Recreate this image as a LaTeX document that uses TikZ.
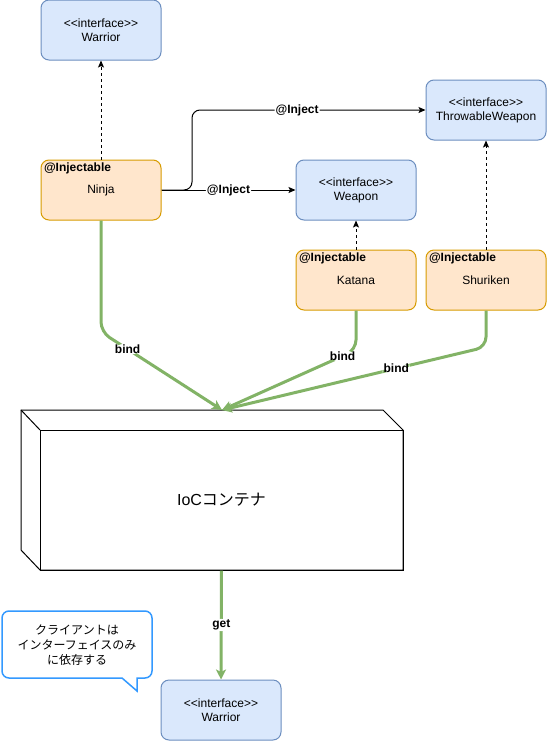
\documentclass[tikz,border=0pt]{standalone}
\usepackage{fontspec}
\setmainfont{Liberation Sans}[Ligatures=TeXOff]
\newfontfamily\jp{Noto Sans CJK JP}
\usetikzlibrary{arrows.meta}
\definecolor{ifill}{HTML}{DAE8FC}
\definecolor{iline}{HTML}{6C8EBF}
\definecolor{cfill}{HTML}{FFE6CC}
\definecolor{cline}{HTML}{D79B00}
\definecolor{bindgreen}{HTML}{82B366}
\definecolor{noteline}{HTML}{3399FF}
\newcommand \txt {\fontsize{12}{14}\selectfont}
\tikzstyle{iface}=[rectangle,rounded corners=8pt,draw=iline,fill=ifill,minimum width=120pt,minimum height=60pt,align=center,font=\txt]
\tikzstyle{impl}=[rectangle,rounded corners=8pt,draw=cline,fill=cfill,minimum width=120pt,minimum height=60pt,font=\txt]
\tikzstyle{tag}=[anchor=north west,inner sep=3pt,font=\txt\bfseries]
\tikzstyle{lbl}=[fill=white,inner sep=1pt,font=\txt\bfseries]
\tikzstyle{dep}=[-{Stealth[length=7pt,width=6pt,inset=1.5pt]},dash pattern=on 3pt off 3pt,line width=1pt]
\tikzstyle{inj}=[-{Stealth[length=7pt,width=6pt,inset=1.5pt]},line width=1pt,rounded corners=8pt]
\tikzstyle{bind}=[-{Stealth[length=10pt,width=10pt,inset=2.5pt]},draw=bindgreen,line width=3pt,rounded corners=10pt]
\tikzset{every picture/.style={
    x=1pt,y=-1pt,line width=1pt
  }
}

\begin{document}
\begin{tikzpicture}
      \useasboundingbox (0,0) rectangle (547,742);
      % interfaces
      \node[iface] at (101,30) (warrior) {<<interface>>\\Warrior};
      \node[iface] at (356,190) (weapon) {<<interface>>\\Weapon};
      \node[iface] at (486,110) (throwable) {<<interface>>\\ThrowableWeapon};
      % implementations
      \node[impl] at (101,190) (ninja) {Ninja};
      \node[tag] at (ninja.north west) (ninjatag) {@Injectable};
      \node[impl] at (356,280) (katana) {Katana};
      \node[tag] at (katana.north west) (katanatag) {@Injectable};
      \node[impl] at (486,280) (shuriken) {Shuriken};
      \node[tag] at (shuriken.north west) (shurikentag) {@Injectable};
      \draw[dep] (ninja)--(warrior);
      \draw[dep] (katana)--(weapon);
      \draw[dep] (shuriken)--(throwable);
      \draw[inj] (ninja.east)--node[lbl] {@Inject} (weapon.west);
      \draw[inj] (ninja.east)--(192,190)--(192,110)--node[lbl,pos=0.45] {@Inject} (throwable.west);
      % container
      \draw (21,410)--(383,410)--(403,430)--(403,570)--(40,570)--(21,550)--cycle;
      \draw (21,410)--(40,430);
      \node[draw,minimum width=363pt,minimum height=140pt,font=\fontsize{16}{18}\selectfont] at (221.5,500) (ioc) {IoC{\jp コンテナ}};
      \coordinate (ioctop) at (222,410);
      \draw[bind] (ninja.south)--(101,332)--node[lbl,pos=0.22] {bind} (ioctop);
      \draw[bind] (katana.south)--(356,350)--node[lbl,pos=0.1] {bind} (ioctop);
      \draw[bind] (shuriken.south)--(486,347)--node[lbl,pos=0.34] {bind} (ioctop);
      % client side
      \node[iface] at (221,710) (client) {<<interface>>\\Warrior};
      \draw[bind] (ioc.south)--node[lbl] {get} (client.north);
      \draw[noteline,line width=1.5pt,fill=white,rounded corners=7pt] (2,611)--(152,611)--(152,678)[sharp corners]--(137,678)--(137,691)--(122,678)[rounded corners=7pt]--(2,678)--cycle;
      \node[align=center,font=\jp\fontsize{12}{15}\selectfont] at (77,645) (note) {クライアントは\\インターフェイスのみ\\に依存する};
    \end{tikzpicture}
\end{document}
